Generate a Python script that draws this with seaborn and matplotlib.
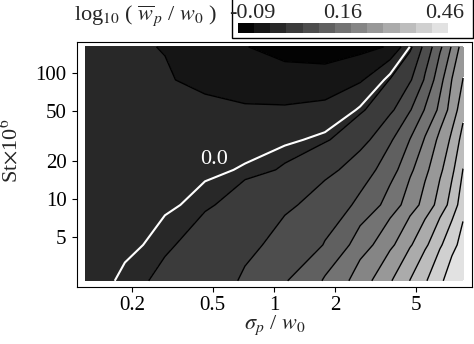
import numpy as np
import matplotlib
matplotlib.use("Agg")
import matplotlib.pyplot as plt
from matplotlib.patches import Rectangle
import seaborn as sns

# sample positions of the map
sigma_ratio = [0.118, 0.185, 0.291, 0.458, 0.720, 1.13, 1.78, 2.65, 3.72, 4.66, 5.52, 6.54, 7.49, 8.49]
st_e6 = [2.25, 4.34, 9.01, 17.1, 29.6, 51.1, 88.5, 162.0]

# log10(w_p / w0), one list per St row (bottom to top)
logw_st_2 = [-0.007, 0.003, 0.016, 0.037, 0.060, 0.097, 0.150, 0.213, 0.276, 0.326, 0.365, 0.406, 0.440, 0.465]
logw_st_4 = [-0.013, -0.004, 0.006, 0.024, 0.045, 0.071, 0.102, 0.168, 0.225, 0.275, 0.316, 0.364, 0.400, 0.433]
logw_st_9 = [-0.016, -0.009, -0.003, 0.006, 0.025, 0.047, 0.076, 0.109, 0.165, 0.213, 0.251, 0.299, 0.343, 0.397]
logw_st_17 = [-0.022, -0.016, -0.010, -0.004, 0.002, 0.013, 0.043, 0.077, 0.125, 0.181, 0.224, 0.271, 0.315, 0.371]
logw_st_30 = [-0.025, -0.022, -0.018, -0.014, -0.010, -0.004, 0.006, 0.039, 0.094, 0.146, 0.194, 0.248, 0.289, 0.343]
logw_st_51 = [-0.026, -0.027, -0.028, -0.029, -0.030, -0.030, -0.023, 0.004, 0.046, 0.097, 0.148, 0.201, 0.256, 0.307]
logw_st_88 = [-0.027, -0.031, -0.033, -0.042, -0.060, -0.068, -0.067, -0.040, 0.012, 0.050, 0.105, 0.175, 0.236, 0.281]
logw_st_162 = [-0.029, -0.032, -0.036, -0.057, -0.079, -0.093, -0.099, -0.096, -0.075, 0.001, 0.069, 0.136, 0.195, 0.258]

levels = [-0.125, -0.08, -0.035, 0.01, 0.055, 0.10, 0.145, 0.19, 0.235, 0.28, 0.325, 0.37, 0.415, 0.47]
zero_level = [0.0]
cbar_labels = ["-0.09", "0.16", "0.46"]
x_ticks = [0.2, 0.5, 1, 2, 5]
x_ticklabels = ["0.2", "0.5", "1", "2", "5"]
y_ticks = [5, 10, 20, 50, 100]
y_ticklabels = ["5", "10", "20", "50", "100"]

sns.set_style("ticks")
plt.rcParams["font.family"] = ["Liberation Serif", "DejaVu Serif"]
plt.rcParams["mathtext.fontset"] = "stix"

W, H = 474, 344
fig = plt.figure(figsize=(W / 100, H / 100), dpi=100)
ax = fig.add_axes([77 / W, 1 - 287 / H, (472 - 77) / W, (287 - 42) / H])

Z = np.array([logw_st_2, logw_st_4, logw_st_9, logw_st_17,
              logw_st_30, logw_st_51, logw_st_88, logw_st_162])
X, Y = np.meshgrid(sigma_ratio, st_e6)

palette = sns.blend_palette(["#030303", "#e2e2e2"], n_colors=len(levels) - 1)
cf = ax.contourf(X, Y, Z, levels=levels, colors=palette)
ax.contour(X, Y, Z, levels=levels[1:-1], colors="black", linewidths=1.0,
           linestyles="solid")
ax.contour(X, Y, Z, levels=zero_level, colors="white", linewidths=1.5,
           linestyles="solid")
ax.text(0.505, 20.5, "0.0", color="white", fontsize=16, ha="center", va="center")

ax.set_xscale("log")
ax.set_yscale("log")
ax.set_xlim(0.1076, 9.40)
ax.set_ylim(2.01, 177)
ax.set_xticks(x_ticks)
ax.set_xticklabels(x_ticklabels)
ax.set_yticks(y_ticks)
ax.set_yticklabels(y_ticklabels)
ax.minorticks_off()
ax.tick_params(direction="out", length=3.5, width=0.8, labelsize=15, colors="black")
ax.tick_params(axis="y", pad=4)
ax.tick_params(axis="x", pad=3)
for s in ax.spines.values():
    s.set_color("black")
    s.set_linewidth(0.8)
ax.set_facecolor("white")

ax.set_xlabel(r"$\sigma_p$ / $w_0$", fontsize=16, labelpad=-1)
ax.set_ylabel(r"St$\times$10$^6$", fontsize=16)
ax.yaxis.set_label_coords(-0.137, 0.555)

# colour bar box on top
box = Rectangle((232 / W, 1 - 38 / H), (473 - 232) / W, 38 / H + 0.01,
                transform=fig.transFigure, facecolor="white", edgecolor="black",
                linewidth=1.0, zorder=-1)
fig.patches.append(box)
cax = fig.add_axes([238 / W, 1 - 33.3 / H, (448 - 238) / W, 10 / H])
cax.set_zorder(5)
cb = fig.colorbar(cf, cax=cax, orientation="horizontal")
cb.outline.set_visible(False)
cax.set_xticks([])
cax.tick_params(length=0)
fig.text(229 / W, 1 - 18.5 / H, cbar_labels[0], ha="left", va="baseline", fontsize=16)
fig.text(343 / W, 1 - 18.5 / H, cbar_labels[1], ha="center", va="baseline", fontsize=16)
fig.text(464 / W, 1 - 18.5 / H, cbar_labels[2], ha="right", va="baseline", fontsize=16)
fig.text(217 / W, 1 - 16 / H, r"log$_{10}$ ( $\overline{w}_p$ / $w_0$ )",
         ha="right", va="center", fontsize=16)

fig.savefig("out.png", dpi=100)
